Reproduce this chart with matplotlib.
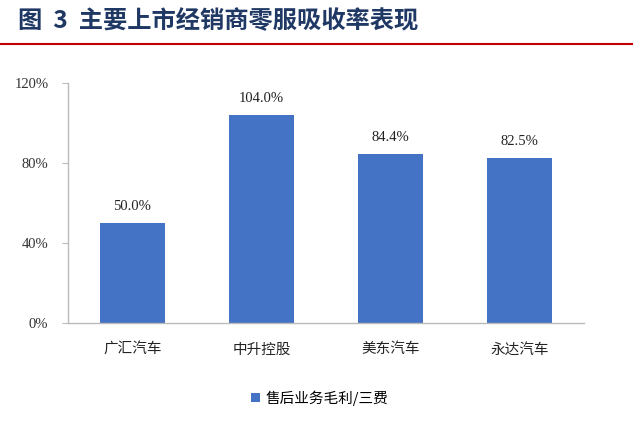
import matplotlib
matplotlib.use("Agg")
import matplotlib.pyplot as plt
from matplotlib.ticker import FuncFormatter
from matplotlib.lines import Line2D

categories = ["广汇汽车", "中升控股", "美东汽车", "永达汽车"]
values = [50.0, 104.0, 84.4, 82.5]
yticks = [0, 40, 80, 120]
series_name = "售后业务毛利/三费"
title = "图  3  主要上市经销商零服吸收率表现"

cjk = ["Noto Sans CJK SC", "DejaVu Sans"]
serif = ["Liberation Serif", "DejaVu Serif"]
bar_color = "#4472C4"

fig = plt.figure(figsize=(6.4, 4.44), dpi=100)
fig.patch.set_facecolor("white")

ax = fig.add_axes([0.106, 0.2725, 0.8065, 0.5405])
x = range(len(categories))
bars = ax.bar(x, values, width=0.5, color=bar_color, label=series_name, zorder=2)
for xi, v in zip(x, values):
    ax.text(xi, v + 5, f"{v:.1f}%", ha="center", va="bottom", fontsize=10.5,
            family=serif, color="#222222")

ax.set_xlim(-0.5, len(categories) - 0.5)
ax.set_ylim(0, 120)
ax.set_yticks(yticks)
ax.yaxis.set_major_formatter(FuncFormatter(lambda v, p: f"{v:.0f}%"))
for lab in ax.get_yticklabels():
    lab.set_family(serif)
    lab.set_fontsize(10.5)
    lab.set_color("#333333")
ax.set_xticks(list(x))
ax.set_xticklabels(categories, family=cjk, fontsize=10.5, color="#222222")
ax.tick_params(axis="x", length=0, pad=14)
ax.tick_params(axis="y", length=4, color="#BBBBBB", pad=10)
for s in ["top", "right"]:
    ax.spines[s].set_visible(False)
for s in ["left", "bottom"]:
    ax.spines[s].set_color("#BBBBBB")
    ax.spines[s].set_linewidth(1.0)

leg = fig.legend(handles=[bars], labels=[series_name], loc="center",
                 bbox_to_anchor=(0.5, 0.103), frameon=False,
                 prop={"family": cjk, "size": 10.5},
                 handlelength=0.6, handleheight=0.6, handletextpad=0.4)

fig.text(0.028, 0.953, title, fontsize=17.5, fontweight="bold", family=cjk,
         color="#1F3864", ha="left", va="center")
fig.add_artist(Line2D([0.0, 0.988], [0.901, 0.901], color="#C00000", linewidth=1.5,
                      transform=fig.transFigure))

fig.savefig("out.png", dpi=100, facecolor="white")
